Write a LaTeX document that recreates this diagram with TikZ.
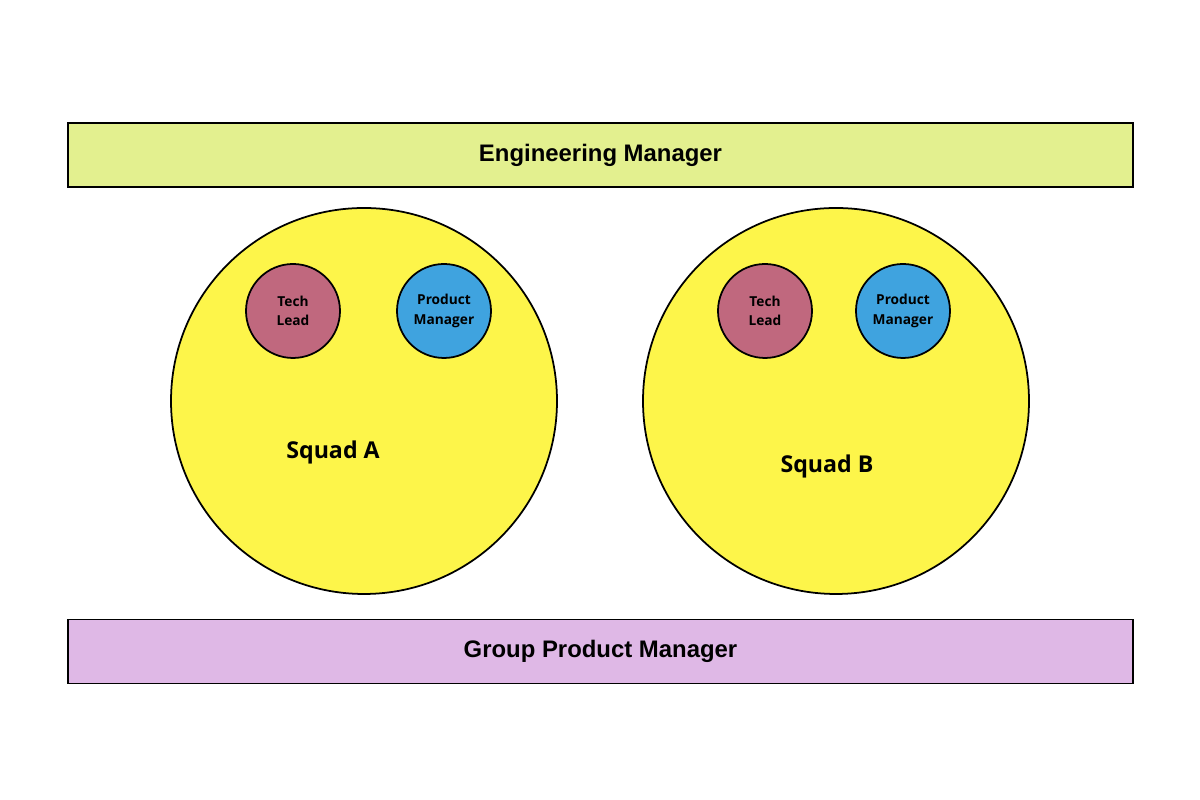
\documentclass[tikz,border=0pt]{standalone}
\usepackage{fontspec}
\setmainfont{Liberation Sans}
\newfontfamily\squadfont{Open Sans}
\usetikzlibrary{positioning}
\definecolor{em_green}{HTML}{E3F08F}
\definecolor{gpm_purple}{HTML}{DFB8E6}
\definecolor{squad_yellow}{HTML}{FDF54A}
\definecolor{tl_red}{HTML}{C0687E}
\definecolor{pm_blue}{HTML}{3FA3DF}
\tikzset{
  bar/.style={draw, line width=0.5pt, minimum width=10.65cm, minimum height=0.64cm,
    font=\fontsize{6.8}{8}\selectfont\bfseries},
  squad/.style={circle, draw, line width=0.5pt, fill=squad_yellow, minimum size=3.86cm, inner sep=0pt},
  role/.style={circle, draw, line width=0.5pt, minimum size=0.94cm, inner sep=0pt, align=center,
    font=\squadfont\fontsize{3.9}{5.6}\selectfont\bfseries},
  squadlabel/.style={font=\squadfont\fontsize{6.6}{8}\selectfont\bfseries}
}
\begin{document}
\begin{tikzpicture}
\useasboundingbox (0,0) rectangle (12,8);
% bars
\node[bar, fill=em_green] (em) at (6.005,6.45) {Engineering Manager};
\node[bar, fill=gpm_purple] (gpm) at (6.005,1.485) {Group Product Manager};
% squads
\node[squad] (squadA) at (3.64,3.99) {};
\node[squad] (squadB) at (8.36,3.99) {};
\node[role, fill=tl_red] (tlA) at (2.93,4.89) {Tech\\Lead};
\node[role, fill=pm_blue] (pmA) at (4.44,4.89) {Product\\Manager};
\node[role, fill=tl_red] (tlB) at (7.65,4.89) {Tech\\Lead};
\node[role, fill=pm_blue] (pmB) at (9.03,4.89) {Product\\Manager};
\node[squadlabel] (labA) at (3.33,3.48) {Squad A};
\node[squadlabel] (labB) at (8.27,3.34) {Squad B};
\end{tikzpicture}
\end{document}
